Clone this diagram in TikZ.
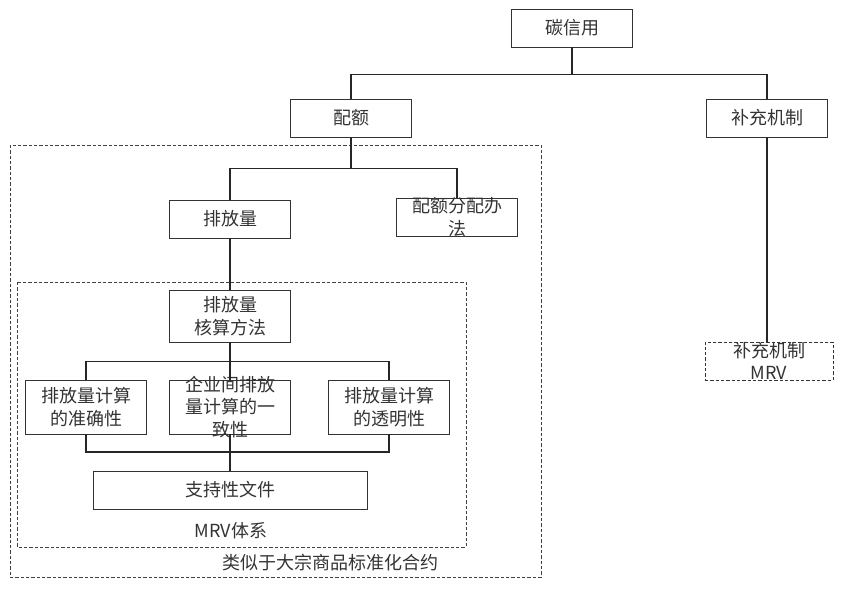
\documentclass[tikz,border=0pt]{standalone}
\usepackage{fontspec}
\setmainfont{Noto Sans CJK SC}
\usetikzlibrary{positioning}
\tikzset{
  box/.style={draw=black!80,line width=0.7pt,minimum width=90.75pt,minimum height=28.5pt,
    inner sep=0pt,align=center,text=black!80,font=\fontsize{13.5}{17}\selectfont},
  dbox/.style={box,dashed,dash pattern=on 2.5pt off 1.5pt},
  group/.style={draw=black!75,line width=0.6pt,dash pattern=on 2.5pt off 1.5pt},
  tag/.style={text=black!80,font=\fontsize{13.5}{17}\selectfont,inner sep=0pt},
  link/.style={draw=black!85,line width=0.8pt}
}
\begin{document}
\begin{tikzpicture}[x=0.75pt,y=-0.75pt]
  \useasboundingbox (0,0) rectangle (868,607);
  % groups
  \draw[group] (10,145) rectangle (541,577);
  \draw[group] (17,282) rectangle (466,547);
  \node[tag] (mrvtx) at (231,531) {MRV体系};
  \node[tag] (heyue) at (330,563) {类似于大宗商品标准化合约};
  % boxes
  \node[box] (tan) at (572,28) {碳信用};
  \node[box] (peie) at (351,118) {配额};
  \node[box] (bcjz) at (767,118) {补充机制};
  \node[box] (pfl) at (230,219) {排放量};
  \node[box,label={[tag,align=center]center:配额分配办\\法}] (fpbf) at (457,217) {};
  \node[box,minimum height=39pt] (hsff) at (230,316) {排放量\\核算方法};
  \node[box,minimum height=40.5pt] (zqx) at (86,407) {排放量计算\\的准确性};
  \node[box,minimum height=40.5pt,label={[tag,align=center]center:企业间排放\\量计算的一\\致性}] (yzx) at (230,407) {};
  \node[box,minimum height=40.5pt] (tmx) at (389,407) {排放量计算\\的透明性};
  \node[box,minimum width=205.5pt] (zcwj) at (230,490) {支持性文件};
  \node[dbox,minimum width=96pt,label={[tag,align=center]center:补充机制\\MRV}] (bcmrv) at (769,361) {};
  % connectors
  \draw[link] (tan.south) -- ++(0,27) -| (peie.north);
  \draw[link] (tan.south) ++(0,27) -| (bcjz.north);
  \draw[link] (peie.south) -- ++(0,31) -| (pfl.north);
  \draw[link] (peie.south) ++(0,31) -| (fpbf.north);
  \draw[link] (pfl.south) -- (hsff.north);
  \draw[link] (hsff.south) -- ++(0,19) -| (zqx.north);
  \draw[link] (hsff.south) ++(0,19) -| (tmx.north);
  \draw[link] (hsff.south) -- (yzx.north);
  \draw[link] (zqx.south) |- (zcwj.north |- 0,452) -| (tmx.south);
  \draw[link] (yzx.south) -- (zcwj.north);
  \draw[link] (bcjz.south) -- (bcjz.south |- bcmrv.north);
\end{tikzpicture}
\end{document}
